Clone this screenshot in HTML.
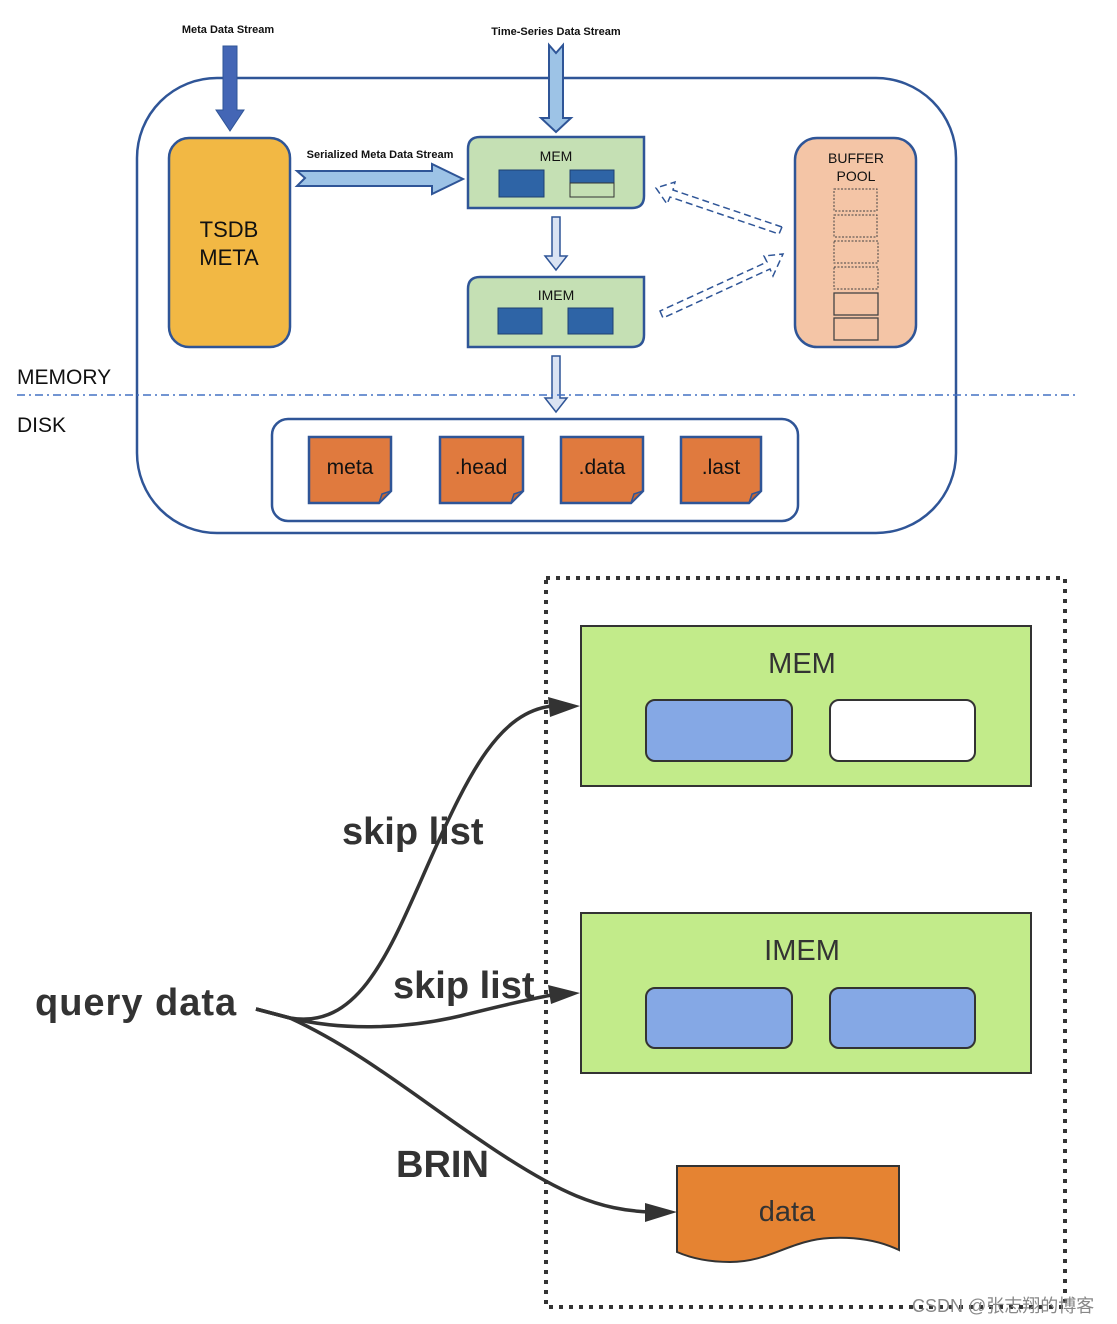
<!DOCTYPE html>
<html><head><meta charset="utf-8"><style>
html,body{margin:0;padding:0;background:#fff;}
svg{display:block;}
</style></head><body>
<svg width="1117" height="1324" viewBox="0 0 1117 1324" xmlns="http://www.w3.org/2000/svg" font-family="Liberation Sans, DejaVu Sans, sans-serif">
<!-- outer container -->
<rect x="137" y="78" width="819" height="455" rx="80" fill="none" stroke="#2f5597" stroke-width="2.5"/>
<!-- Meta data stream arrow -->
<text x="228" y="33" font-size="11" font-weight="bold" text-anchor="middle" fill="#111">Meta Data Stream</text>
<polygon points="223,46 237,46 237,110 244,110 230,131 216,110 223,110" fill="#4466b5" stroke="#2f5597" stroke-width="1"/>
<!-- Time-series arrow -->
<text x="556" y="35" font-size="11" font-weight="bold" text-anchor="middle" fill="#111">Time-Series Data Stream</text>
<polygon points="549,45 556,53 563,45 563,118 571,118 556,132 541,118 549,118" fill="#9dc3e6" stroke="#2f5597" stroke-width="2"/>
<!-- TSDB META -->
<rect x="169" y="138" width="121" height="209" rx="20" fill="#f2b844" stroke="#2f5597" stroke-width="2.5"/>
<text x="229" y="237" font-size="22" text-anchor="middle" fill="#111">TSDB</text>
<text x="229" y="265" font-size="22" text-anchor="middle" fill="#111">META</text>
<!-- serialized arrow -->
<text x="380" y="158" font-size="11" font-weight="bold" text-anchor="middle" fill="#111">Serialized Meta Data Stream</text>
<polygon points="297,171 432,171 432,164 463,179 432,194 432,186 297,186 305,178" fill="#9dc3e6" stroke="#2f5597" stroke-width="2"/>
<!-- MEM -->
<path d="M480,137 L644,137 L644,196 Q644,208 632,208 L468,208 L468,149 Q468,137 480,137 Z" fill="#c5e0b4" stroke="#2f5597" stroke-width="2.5"/>
<text x="556" y="161" font-size="14" text-anchor="middle" fill="#111">MEM</text>
<rect x="499" y="170" width="45" height="27" fill="#2e64a6" stroke="#1f3f70" stroke-width="1"/>
<rect x="570" y="170" width="44" height="13" fill="#2e64a6" stroke="#1f3f70" stroke-width="1"/>
<rect x="570" y="183" width="44" height="14" fill="#c5e0b4" stroke="#333" stroke-width="1"/>
<!-- down arrow MEM->IMEM -->
<polygon points="552,217 560,217 560,256 567,256 556,270 545,256 552,256" fill="#dae3f3" stroke="#2f5597" stroke-width="1.5"/>
<!-- IMEM -->
<path d="M480,277 L644,277 L644,335 Q644,347 632,347 L468,347 L468,289 Q468,277 480,277 Z" fill="#c5e0b4" stroke="#2f5597" stroke-width="2.5"/>
<text x="556" y="300" font-size="14" text-anchor="middle" fill="#111">IMEM</text>
<rect x="498" y="308" width="44" height="26" fill="#2e64a6" stroke="#1f3f70" stroke-width="1"/>
<rect x="568" y="308" width="45" height="26" fill="#2e64a6" stroke="#1f3f70" stroke-width="1"/>
<!-- down arrow IMEM->disk -->
<polygon points="552,356 560,356 560,398 567,398 556,412 545,398 552,398" fill="#dae3f3" stroke="#2f5597" stroke-width="1.5"/>
<!-- memory/disk line -->
<line x1="17" y1="395" x2="1075" y2="395" stroke="#4472c4" stroke-width="1.5" stroke-dasharray="8,4,2,4"/>
<text x="17" y="384" font-size="21" fill="#111">MEMORY</text>
<text x="17" y="432" font-size="21" fill="#111">DISK</text>
<!-- buffer pool -->
<rect x="795" y="138" width="121" height="209" rx="22" fill="#f4c5a6" stroke="#2f5597" stroke-width="2.5"/>
<text x="856" y="163" font-size="14" text-anchor="middle" fill="#111">BUFFER</text>
<text x="856" y="181" font-size="14" text-anchor="middle" fill="#111">POOL</text>
<g fill="none" stroke="#444" stroke-width="1">
<rect x="834" y="189" width="43" height="22" stroke-dasharray="2,1.5"/>
<rect x="834" y="215" width="43" height="22" stroke-dasharray="2,1.5"/>
<rect x="834" y="241" width="44" height="22" stroke-dasharray="2,1.5"/>
<rect x="834" y="267" width="44" height="22" stroke-dasharray="2,1.5"/>
<rect x="834" y="293" width="44" height="22" stroke-width="1.3"/>
<rect x="834" y="318" width="44" height="22" stroke-width="1.3"/>
</g>
<!-- dashed hollow arrows -->
<g fill="none" stroke="#2f5597" stroke-width="1.5" stroke-dasharray="7,4">
<polygon points="782,227 779,234 670,197 667,204 656,188 675,182 673,190"/>
<polygon points="660,311 663,318 770,269 773,276 783,254 764,256 767,262"/>
</g>
<!-- disk box -->
<rect x="272" y="419" width="526" height="102" rx="16" fill="#fff" stroke="#2f5597" stroke-width="2.5"/>
<g stroke="#2f5597" stroke-width="2.5" fill="#e07a3e">
<path d="M309,437 L391,437 L391,491 L379,503 L309,503 Z"/>
<path d="M440,437 L523,437 L523,491 L511,503 L440,503 Z"/>
<path d="M561,437 L643,437 L643,491 L631,503 L561,503 Z"/>
<path d="M681,437 L761,437 L761,491 L749,503 L681,503 Z"/>
</g>
<g stroke="#2f5597" stroke-width="1.5" fill="#c9652f">
<path d="M379,503 L382,494 L391,491 Z"/>
<path d="M511,503 L514,494 L523,491 Z"/>
<path d="M631,503 L634,494 L643,491 Z"/>
<path d="M749,503 L752,494 L761,491 Z"/>
</g>
<g font-size="21" text-anchor="middle" fill="#111">
<text x="350" y="474">meta</text>
<text x="481" y="474">.head</text>
<text x="602" y="474">.data</text>
<text x="721" y="474">.last</text>
</g>
<!-- bottom: dotted container -->
<rect x="546" y="578" width="519" height="729" fill="none" stroke="#333" stroke-width="4" stroke-dasharray="4,6"/>
<!-- MEM -->
<rect x="581" y="626" width="450" height="160" fill="#c2eb8a" stroke="#333" stroke-width="2"/>
<text x="802" y="673" font-size="29" text-anchor="middle" fill="#333">MEM</text>
<rect x="646" y="700" width="146" height="61" rx="9" fill="#85a8e5" stroke="#333" stroke-width="2"/>
<rect x="830" y="700" width="145" height="61" rx="9" fill="#fff" stroke="#333" stroke-width="2"/>
<!-- IMEM -->
<rect x="581" y="913" width="450" height="160" fill="#c2eb8a" stroke="#333" stroke-width="2"/>
<text x="802" y="960" font-size="29" text-anchor="middle" fill="#333">IMEM</text>
<rect x="646" y="988" width="146" height="60" rx="9" fill="#85a8e5" stroke="#333" stroke-width="2"/>
<rect x="830" y="988" width="145" height="60" rx="9" fill="#85a8e5" stroke="#333" stroke-width="2"/>
<!-- data shape -->
<path d="M677,1166 L899,1166 L899,1250 Q870,1236 830,1238 C790,1240 770,1262 730,1262 Q700,1262 677,1252 Z" fill="#e58332" stroke="#333" stroke-width="2"/>
<text x="787" y="1221" font-size="29" text-anchor="middle" fill="#333">data</text>
<!-- query data -->
<text x="35" y="1015" font-size="38" font-weight="bold" fill="#333" letter-spacing="1">query data</text>
<g fill="none" stroke="#333" stroke-width="3.5">
<path d="M256,1009 L290,1018 C360,1030 390,950 430,860 C470,770 500,712 552,706"/>
<path d="M256,1009 L290,1018 C340,1030 400,1030 460,1016 C500,1006 530,999 552,995"/>
<path d="M256,1009 L290,1018 C360,1050 420,1100 480,1140 C560,1195 600,1210 650,1212"/>
</g>
<g fill="#333">
<polygon points="580,706 548,697 550,717"/>
<polygon points="580,993 548,985 551,1004"/>
<polygon points="677,1212 645,1203 645,1222"/>
</g>
<g font-size="38" font-weight="bold" fill="#333">
<text x="342" y="844">skip list</text>
<text x="393" y="998">skip list</text>
<text x="396" y="1177">BRIN</text>
</g>
<text x="912" y="1312" font-size="18" fill="#888" font-family="Liberation Sans, Noto Sans CJK SC, sans-serif">CSDN @张志翔的博客</text>
</svg>
</body></html>
